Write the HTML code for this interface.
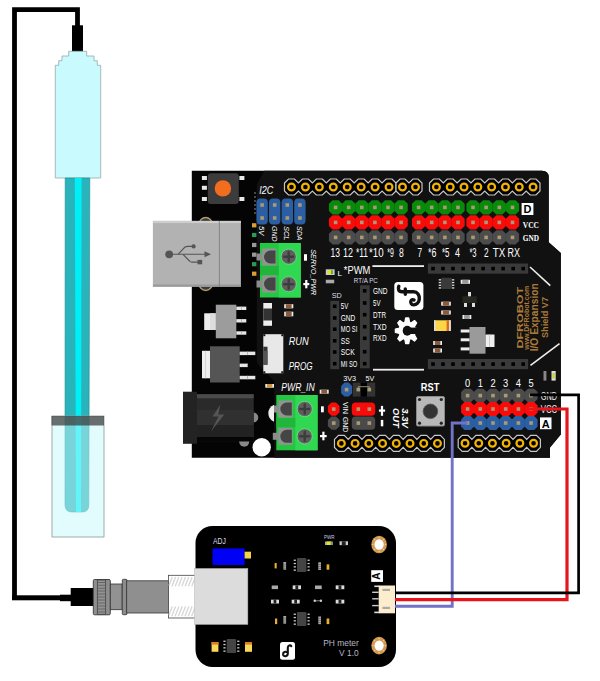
<!DOCTYPE html><html><head><meta charset="utf-8"><style>html,body{margin:0;padding:0;background:#fff;width:600px;height:681px;overflow:hidden}svg{display:block}</style></head><body>
<svg width="600" height="681" viewBox="0 0 600 681">
<polyline points="14.5,598 14.5,9.7 77.5,9.7 77.5,26" fill="none" stroke="#000" stroke-width="4.8" stroke-linejoin="miter"/>
<rect x="72" y="25.3" width="11" height="27" fill="#000"/>
<polygon points="68.7,51.3 86.7,51.3 86.7,56.0 94.0,56.0 94.0,60.7 97.3,60.7 97.3,65.3 100.7,65.3 100.7,178.0 55.3,178.0 55.3,65.3 58.7,65.3 58.7,60.7 62.0,60.7 62.0,56.0 68.7,56.0" fill="#c9fafd" stroke="#9aa" stroke-width="0.8"/>
<path d="M65.2,178 L89.8,178 L88.8,505 Q88.8,512 82,512 L72,512 Q65.2,512 65,505 Z" fill="#29b3bb" stroke="#1a8a90" stroke-width="0.6"/>
<path d="M74.8,178 L81.6,178 L81,512 L76,512 Z" fill="#00eef6"/>
<rect x="52" y="416" width="52" height="121" fill="#c6f8fa" fill-opacity="0.5" stroke="#8a9a9a" stroke-width="0.8"/>
<rect x="51.5" y="416" width="52.5" height="9.5" fill="#383838" fill-opacity="0.72"/>
<rect x="12" y="595.3" width="49" height="5" fill="#000"/>
<rect x="60" y="594.7" width="11" height="6.5" fill="#000"/>
<rect x="70.7" y="588" width="23" height="18" fill="#000"/>
<rect x="93.3" y="579.5" width="17" height="35.3" rx="1.2" fill="#8e8e8e" stroke="#3a3a3a" stroke-width="0.9"/>
<rect x="97.3" y="580" width="8.4" height="34.3" fill="#939393" stroke="#3a3a3a" stroke-width="0.7"/>
<line x1="97.5" y1="582.5" x2="105.5" y2="582.5" stroke="#555" stroke-width="0.7"/>
<line x1="97.5" y1="585.3" x2="105.5" y2="585.3" stroke="#555" stroke-width="0.7"/>
<line x1="97.5" y1="588.3" x2="105.5" y2="588.3" stroke="#555" stroke-width="0.7"/>
<line x1="97.5" y1="591.0" x2="105.5" y2="591.0" stroke="#555" stroke-width="0.7"/>
<line x1="97.5" y1="594.0" x2="105.5" y2="594.0" stroke="#555" stroke-width="0.7"/>
<line x1="97.5" y1="597.0" x2="105.5" y2="597.0" stroke="#555" stroke-width="0.7"/>
<line x1="97.5" y1="600.0" x2="105.5" y2="600.0" stroke="#555" stroke-width="0.7"/>
<line x1="97.5" y1="603.0" x2="105.5" y2="603.0" stroke="#555" stroke-width="0.7"/>
<line x1="97.5" y1="606.0" x2="105.5" y2="606.0" stroke="#555" stroke-width="0.7"/>
<line x1="97.5" y1="609.0" x2="105.5" y2="609.0" stroke="#555" stroke-width="0.7"/>
<line x1="97.5" y1="612.0" x2="105.5" y2="612.0" stroke="#555" stroke-width="0.7"/>
<rect x="110.3" y="584" width="11.8" height="25.7" fill="#929292" stroke="#333" stroke-width="0.8"/>
<rect x="122.3" y="579.3" width="4.7" height="35.4" rx="1" fill="#8c8c8c" stroke="#333" stroke-width="0.8"/>
<rect x="126.7" y="580.8" width="41.8" height="32.2" fill="#8f8f8f" stroke="#333" stroke-width="0.8"/>
<rect x="168.4" y="575.3" width="27" height="42.7" fill="#fff" stroke="#444" stroke-width="0.8"/>
<line x1="169.00" y1="585.42" x2="172.30" y2="577.00" stroke="#d6d6d6" stroke-width="1.3"/><line x1="171.95" y1="586.30" x2="175.60" y2="577.00" stroke="#d6d6d6" stroke-width="1.3"/><line x1="175.25" y1="586.30" x2="178.90" y2="577.00" stroke="#d6d6d6" stroke-width="1.3"/><line x1="178.55" y1="586.30" x2="182.20" y2="577.00" stroke="#d6d6d6" stroke-width="1.3"/><line x1="181.85" y1="586.30" x2="185.50" y2="577.00" stroke="#d6d6d6" stroke-width="1.3"/><line x1="185.15" y1="586.30" x2="188.80" y2="577.00" stroke="#d6d6d6" stroke-width="1.3"/><line x1="188.45" y1="586.30" x2="192.10" y2="577.00" stroke="#d6d6d6" stroke-width="1.3"/><line x1="191.75" y1="586.30" x2="195.00" y2="578.02" stroke="#d6d6d6" stroke-width="1.3"/>
<line x1="169.00" y1="614.92" x2="172.30" y2="606.50" stroke="#d6d6d6" stroke-width="1.3"/><line x1="171.76" y1="616.30" x2="175.60" y2="606.50" stroke="#d6d6d6" stroke-width="1.3"/><line x1="175.06" y1="616.30" x2="178.90" y2="606.50" stroke="#d6d6d6" stroke-width="1.3"/><line x1="178.36" y1="616.30" x2="182.20" y2="606.50" stroke="#d6d6d6" stroke-width="1.3"/><line x1="181.66" y1="616.30" x2="185.50" y2="606.50" stroke="#d6d6d6" stroke-width="1.3"/><line x1="184.96" y1="616.30" x2="188.80" y2="606.50" stroke="#d6d6d6" stroke-width="1.3"/><line x1="188.26" y1="616.30" x2="192.10" y2="606.50" stroke="#d6d6d6" stroke-width="1.3"/><line x1="191.56" y1="616.30" x2="195.00" y2="607.52" stroke="#d6d6d6" stroke-width="1.3"/><line x1="194.86" y1="616.30" x2="195.00" y2="615.94" stroke="#d6d6d6" stroke-width="1.3"/>
<rect x="195.5" y="526" width="200.5" height="141" rx="17" ry="17" fill="#000"/>
<rect x="194.6" y="568.6" width="53.2" height="55.7" fill="#dcdcdc" stroke="#bbb" stroke-width="0.6"/>
<text x="213.00" y="544.40" font-family="Liberation Sans" font-size="8.8" fill="#dde" text-anchor="start" font-weight="normal" font-style="normal"   textLength="12.80" lengthAdjust="spacingAndGlyphs">ADJ</text>
<rect x="212.5" y="548.4" width="32.1" height="16.6" fill="#0000f5"/>
<rect x="244.6" y="551.7" width="6.4" height="6.8" fill="#f5d24a"/>
<text x="324.00" y="538.50" font-family="Liberation Sans" font-size="4.5" fill="#cce" text-anchor="start" font-weight="normal" font-style="normal"  >PWR</text>
<rect x="325" y="541.5" width="7.8" height="3.5" fill="#aaa"/><rect x="326.8" y="541.5" width="4" height="3.5" fill="#e8e020"/><rect x="330.8" y="541.5" width="0.8" height="3.5" fill="#3a3"/>
<rect x="339.5" y="541.3" width="8.5" height="3.8" fill="#ccc"/>
<rect x="341.8" y="541.3" width="3.9" height="3.8" fill="#222"/>
<ellipse cx="379.1" cy="544.5" rx="7.8" ry="8.8" fill="#d49a50"/>
<ellipse cx="379.1" cy="544.5" rx="4.6" ry="5.2" fill="#fff"/>
<circle cx="385.30" cy="544.50" r="0.6" fill="#f4dcb0"/>
<circle cx="383.48" cy="549.45" r="0.6" fill="#f4dcb0"/>
<circle cx="379.10" cy="551.50" r="0.6" fill="#f4dcb0"/>
<circle cx="374.72" cy="549.45" r="0.6" fill="#f4dcb0"/>
<circle cx="372.90" cy="544.50" r="0.6" fill="#f4dcb0"/>
<circle cx="374.72" cy="539.55" r="0.6" fill="#f4dcb0"/>
<circle cx="379.10" cy="537.50" r="0.6" fill="#f4dcb0"/>
<circle cx="383.48" cy="539.55" r="0.6" fill="#f4dcb0"/>
<ellipse cx="379.1" cy="645.6" rx="7.8" ry="8.8" fill="#d49a50"/>
<ellipse cx="379.1" cy="645.6" rx="4.6" ry="5.2" fill="#fff"/>
<circle cx="385.30" cy="645.60" r="0.6" fill="#f4dcb0"/>
<circle cx="383.48" cy="650.55" r="0.6" fill="#f4dcb0"/>
<circle cx="379.10" cy="652.60" r="0.6" fill="#f4dcb0"/>
<circle cx="374.72" cy="650.55" r="0.6" fill="#f4dcb0"/>
<circle cx="372.90" cy="645.60" r="0.6" fill="#f4dcb0"/>
<circle cx="374.72" cy="640.65" r="0.6" fill="#f4dcb0"/>
<circle cx="379.10" cy="638.60" r="0.6" fill="#f4dcb0"/>
<circle cx="383.48" cy="640.65" r="0.6" fill="#f4dcb0"/>
<rect x="371.2" y="570.2" width="11.8" height="11.7" fill="#fff"/>
<text x="0.00" y="0.00" font-family="Liberation Sans" font-size="11" fill="#000" text-anchor="middle" font-weight="bold" font-style="normal" transform="translate(380.30 576.10) rotate(-90) scale(1.000 1)"  textLength="7.20" lengthAdjust="spacingAndGlyphs">A</text>
<rect x="378.7" y="585.5" width="16.3" height="27.8" fill="#fbedcd"/>
<rect x="374.3" y="585.5" width="5" height="1.6" fill="#ddd"/><rect x="374.3" y="611.6" width="5" height="1.6" fill="#ddd"/>
<rect x="372.2" y="591.6" width="6.5" height="1.4" fill="#ccc"/>
<rect x="372.2" y="598.1" width="6.5" height="1.4" fill="#ccc"/>
<rect x="372.2" y="604.9" width="6.5" height="1.4" fill="#ccc"/>
<rect x="382.4" y="588.8" width="7.6" height="2.2" fill="#aaa"/>
<rect x="382.4" y="606.8" width="7.6" height="2.2" fill="#aaa"/>
<text x="0.00" y="0.00" font-family="Liberation Sans" font-size="9.8" fill="#b8b8c4" text-anchor="end" font-weight="normal" font-style="normal" transform="translate(358.80 645.60) scale(0.860 1)" >PH meter</text>
<text x="0.00" y="0.00" font-family="Liberation Sans" font-size="8.8" fill="#b8b8c4" text-anchor="end" font-weight="normal" font-style="normal" transform="translate(358.60 656.20) scale(0.950 1)" >V 1.0</text>
<path d="M191.8,170.7 L542,170.7 Q548.7,170.7 548.7,177.4 L548.7,242.3 L560.8,253 L560.8,434.5 L550,447.5 L550,457.8 L191.8,457.8 Z" fill="#040404"/>
<path d="M264.3,170.7 L542,170.7 Q548.7,170.7 548.7,177.4 L548.7,242.3 L560.8,253 L560.8,434.5 L550,447.5 L550,457.8 L274.3,457.8 L274.3,381.5 L256.8,363 L256.8,184.3 Z" fill="#111111"/>
<path d="M199,224 A7,7 0 0 1 212.4,224" fill="none" stroke="#b8a070" stroke-width="1.6"/>
<path d="M199,284 A7,7 0 0 0 212.4,284" fill="none" stroke="#b8a070" stroke-width="1.6"/>
<ellipse cx="205.7" cy="224" rx="6.5" ry="6.5" fill="#3a3a3a" stroke="#b09a6a" stroke-width="1.4"/>
<ellipse cx="205.7" cy="284" rx="6.5" ry="6.5" fill="#3a3a3a" stroke="#b09a6a" stroke-width="1.4"/>
<rect x="152.9" y="220.9" width="88" height="65.8" fill="#b2b2b2"/>
<rect x="152.9" y="220.9" width="88" height="2.2" fill="#cdcdcd"/>
<rect x="152.9" y="284.5" width="88" height="2.2" fill="#9a9a9a"/>
<line x1="219.4" y1="221" x2="219.4" y2="286.7" stroke="#7a7a7a" stroke-width="0.8"/>
<g fill="#555" stroke="#555">
<circle cx="169.2" cy="254.3" r="3.9" stroke="none"/>
<line x1="170" y1="254.3" x2="207" y2="254.3" stroke-width="1.1"/>
<polygon points="211,254.3 204.5,251.3 204.5,257.3" stroke="none"/>
<path d="M178,254.3 L185,247 Q186,246.4 188,246.4 L193,246.4" fill="none" stroke-width="1.1"/>
<circle cx="193.6" cy="246.4" r="2.1" stroke="none"/>
<path d="M183,254.3 L189.5,261 Q190.5,262.1 192,262.1 L198,262.1" fill="none" stroke-width="1.1"/>
<rect x="197.5" y="259.9" width="4.7" height="4.4" stroke="none"/>
</g>
<rect x="201.9" y="176.0" width="5" height="4" fill="#e8e8e8"/>
<rect x="201.9" y="185.8" width="5" height="4" fill="#e8e8e8"/>
<rect x="201.9" y="197.0" width="5" height="4" fill="#e8e8e8"/>
<rect x="239.4" y="176.0" width="5" height="4" fill="#e8e8e8"/>
<rect x="239.4" y="197.0" width="5" height="4" fill="#e8e8e8"/>
<rect x="207.8" y="173.2" width="31" height="30.8" rx="3" fill="#3c3c3c"/>
<circle cx="222.9" cy="188.4" r="8.2" fill="#f26d1e"/>
<text x="259.30" y="193.60" font-family="Liberation Sans" font-size="10" fill="#fff" text-anchor="start" font-weight="normal" font-style="italic"   textLength="14.00" lengthAdjust="spacingAndGlyphs">I2C</text>
<line x1="255" y1="192" x2="255" y2="215" stroke="#888" stroke-width="1" stroke-dasharray="2,2"/>
<rect x="256.40" y="198.6" width="11.4" height="26" rx="4" fill="#2c5ea4"/>
<rect x="260.30" y="203.20" width="3.60" height="3.60" fill="#a89a72"/>
<rect x="260.30" y="216.20" width="3.60" height="3.60" fill="#a89a72"/>
<rect x="269.00" y="198.6" width="11.4" height="26" rx="4" fill="#2c5ea4"/>
<rect x="272.90" y="203.20" width="3.60" height="3.60" fill="#a89a72"/>
<rect x="272.90" y="216.20" width="3.60" height="3.60" fill="#a89a72"/>
<rect x="281.60" y="198.6" width="11.4" height="26" rx="4" fill="#2c5ea4"/>
<rect x="285.50" y="203.20" width="3.60" height="3.60" fill="#a89a72"/>
<rect x="285.50" y="216.20" width="3.60" height="3.60" fill="#a89a72"/>
<rect x="294.20" y="198.6" width="11.4" height="26" rx="4" fill="#2c5ea4"/>
<rect x="298.10" y="203.20" width="3.60" height="3.60" fill="#a89a72"/>
<rect x="298.10" y="216.20" width="3.60" height="3.60" fill="#a89a72"/>
<text x="0.00" y="0.00" font-family="Liberation Sans" font-size="7.2" fill="#fff" text-anchor="start" font-weight="normal" font-style="italic" transform="translate(259.10 226.00) rotate(90) scale(1.000 1)"  textLength="9.50" lengthAdjust="spacingAndGlyphs">5V</text>
<text x="0.00" y="0.00" font-family="Liberation Sans" font-size="7.2" fill="#fff" text-anchor="start" font-weight="normal" font-style="italic" transform="translate(271.70 226.00) rotate(90) scale(1.000 1)"  textLength="15.50" lengthAdjust="spacingAndGlyphs">GND</text>
<text x="0.00" y="0.00" font-family="Liberation Sans" font-size="7.2" fill="#fff" text-anchor="start" font-weight="normal" font-style="italic" transform="translate(284.30 226.00) rotate(90) scale(1.000 1)"  textLength="14.50" lengthAdjust="spacingAndGlyphs">SCL</text>
<text x="0.00" y="0.00" font-family="Liberation Sans" font-size="7.2" fill="#fff" text-anchor="start" font-weight="normal" font-style="italic" transform="translate(296.90 226.00) rotate(90) scale(1.000 1)"  textLength="14.50" lengthAdjust="spacingAndGlyphs">SDA</text>
<rect x="252" y="223.2" width="4.4" height="4.2" fill="#d9a030"/>
<rect x="252" y="232.9" width="4.4" height="4.2" fill="#2a9a5a"/>
<rect x="252" y="242.9" width="4.4" height="4.2" fill="#999"/>
<rect x="252" y="252.6" width="4.4" height="4.2" fill="#999"/>
<rect x="252" y="262.1" width="4.4" height="4.2" fill="#2a9a5a"/>
<rect x="252" y="271.6" width="4.4" height="4.2" fill="#d9a030"/>
<rect x="260.0" y="243.0" width="40.8" height="54.5" fill="#24c742"/><rect x="278.7" y="243.0" width="22.1" height="54.5" fill="#30d852"/><rect x="260.0" y="266.0" width="18.7" height="9.0" fill="#1fb63b"/><rect x="256.5" y="253.5" width="6" height="7" fill="#8c8c8c"/><rect x="262.3" y="248.5" width="14" height="17" fill="#939393"/><path d="M275.5,250.5 L275.5,263.5 L270.5,263.5 L270.5,263.5 A6.5,6.5 0 0 1 270.5,250.5 Z" fill="#454545"/><rect x="256.5" y="280.5" width="6" height="7" fill="#8c8c8c"/><rect x="262.3" y="275.5" width="14" height="17" fill="#939393"/><path d="M275.5,277.5 L275.5,290.5 L270.5,290.5 L270.5,290.5 A6.5,6.5 0 0 1 270.5,277.5 Z" fill="#454545"/><circle cx="288.7" cy="256.7" r="7.6" fill="#5e5e5e" stroke="#7fe39a" stroke-width="0.7"/><rect x="283.2" y="255.5" width="11" height="2.4" fill="#3c3c3c"/><rect x="287.5" y="251.2" width="2.4" height="11" fill="#3c3c3c"/><circle cx="288.7" cy="284.2" r="7.6" fill="#5e5e5e" stroke="#7fe39a" stroke-width="0.7"/><rect x="283.2" y="283.0" width="11" height="2.4" fill="#3c3c3c"/><rect x="287.5" y="278.7" width="2.4" height="11" fill="#3c3c3c"/>
<rect x="276.3" y="395.0" width="41.3" height="55.3" fill="#24c742"/><rect x="295.3" y="395.0" width="22.3" height="55.3" fill="#30d852"/><rect x="276.3" y="418.1" width="19.0" height="9.0" fill="#1fb63b"/><rect x="272.8" y="405.5" width="6" height="7" fill="#8c8c8c"/><rect x="278.6" y="400.5" width="14" height="17" fill="#939393"/><path d="M291.8,402.5 L291.8,415.5 L286.8,415.5 L286.8,415.5 A6.5,6.5 0 0 1 286.8,402.5 Z" fill="#454545"/><rect x="272.8" y="432.8" width="6" height="7" fill="#8c8c8c"/><rect x="278.6" y="427.8" width="14" height="17" fill="#939393"/><path d="M291.8,429.8 L291.8,442.8 L286.8,442.8 L286.8,442.8 A6.5,6.5 0 0 1 286.8,429.8 Z" fill="#454545"/><circle cx="304.7" cy="409.0" r="7.6" fill="#5e5e5e" stroke="#7fe39a" stroke-width="0.7"/><rect x="299.2" y="407.8" width="11" height="2.4" fill="#3c3c3c"/><rect x="303.5" y="403.5" width="2.4" height="11" fill="#3c3c3c"/><circle cx="304.7" cy="436.3" r="7.6" fill="#5e5e5e" stroke="#7fe39a" stroke-width="0.7"/><rect x="299.2" y="435.1" width="11" height="2.4" fill="#3c3c3c"/><rect x="303.5" y="430.8" width="2.4" height="11" fill="#3c3c3c"/>
<rect x="304" y="254.2" width="3" height="6.5" fill="#fff"/>
<rect x="303.3" y="283" width="6" height="2.2" fill="#fff"/><rect x="305.2" y="280" width="2.2" height="8.3" fill="#fff"/>
<text x="0.00" y="0.00" font-family="Liberation Sans" font-size="7.6" fill="#fff" text-anchor="start" font-weight="normal" font-style="italic" transform="translate(311.40 249.30) rotate(90) scale(1.000 1)"  textLength="46.00" lengthAdjust="spacingAndGlyphs">SERVO_PWR</text>
<rect x="321" y="406.3" width="2.8" height="6" fill="#fff"/>
<rect x="320" y="435" width="6.7" height="2.2" fill="#fff"/><rect x="322.3" y="431.7" width="2.2" height="8.6" fill="#fff"/>
<text x="281.30" y="390.80" font-family="Liberation Sans" font-size="11" fill="#fff" text-anchor="start" font-weight="normal" font-style="italic"   textLength="33.40" lengthAdjust="spacingAndGlyphs">PWR_IN</text>
<polygon points="284.50,183.00 288.50,179.00 294.44,179.00 298.44,183.00 298.44,183.00 302.44,179.00 308.38,179.00 312.38,183.00 312.38,183.00 316.38,179.00 322.32,179.00 326.32,183.00 326.32,183.00 330.32,179.00 336.26,179.00 340.26,183.00 340.26,183.00 344.26,179.00 350.20,179.00 354.20,183.00 354.20,183.00 358.20,179.00 364.14,179.00 368.14,183.00 368.14,183.00 372.14,179.00 378.08,179.00 382.08,183.00 382.08,183.00 386.08,179.00 392.02,179.00 396.02,183.00 396.02,191.00 392.02,195.00 386.08,195.00 382.08,191.00 382.08,191.00 378.08,195.00 372.14,195.00 368.14,191.00 368.14,191.00 364.14,195.00 358.20,195.00 354.20,191.00 354.20,191.00 350.20,195.00 344.26,195.00 340.26,191.00 340.26,191.00 336.26,195.00 330.32,195.00 326.32,191.00 326.32,191.00 322.32,195.00 316.38,195.00 312.38,191.00 312.38,191.00 308.38,195.00 302.44,195.00 298.44,191.00 298.44,191.00 294.44,195.00 288.50,195.00 284.50,191.00" fill="#000" stroke="#c8c8c8" stroke-width="1.2"/><circle cx="291.47" cy="187.00" r="3.4" fill="none" stroke="#f2b400" stroke-width="2.2"/><circle cx="305.41" cy="187.00" r="3.4" fill="none" stroke="#f2b400" stroke-width="2.2"/><circle cx="319.35" cy="187.00" r="3.4" fill="none" stroke="#f2b400" stroke-width="2.2"/><circle cx="333.29" cy="187.00" r="3.4" fill="none" stroke="#f2b400" stroke-width="2.2"/><circle cx="347.23" cy="187.00" r="3.4" fill="none" stroke="#f2b400" stroke-width="2.2"/><circle cx="361.17" cy="187.00" r="3.4" fill="none" stroke="#f2b400" stroke-width="2.2"/><circle cx="375.11" cy="187.00" r="3.4" fill="none" stroke="#f2b400" stroke-width="2.2"/><circle cx="389.05" cy="187.00" r="3.4" fill="none" stroke="#f2b400" stroke-width="2.2"/>
<polygon points="396.00,183.00 400.00,179.00 405.00,179.00 409.00,183.00 409.00,183.00 413.00,179.00 418.00,179.00 422.00,183.00 422.00,191.00 418.00,195.00 413.00,195.00 409.00,191.00 409.00,191.00 405.00,195.00 400.00,195.00 396.00,191.00" fill="#000" stroke="#c8c8c8" stroke-width="1.2"/><circle cx="402.50" cy="187.00" r="3.4" fill="none" stroke="#f2b400" stroke-width="2.2"/><circle cx="415.50" cy="187.00" r="3.4" fill="none" stroke="#f2b400" stroke-width="2.2"/>
<polygon points="429.50,183.00 433.50,179.00 439.31,179.00 443.31,183.00 443.31,183.00 447.31,179.00 453.12,179.00 457.12,183.00 457.12,183.00 461.12,179.00 466.93,179.00 470.93,183.00 470.93,183.00 474.93,179.00 480.74,179.00 484.74,183.00 484.74,183.00 488.74,179.00 494.55,179.00 498.55,183.00 498.55,183.00 502.55,179.00 508.36,179.00 512.36,183.00 512.36,183.00 516.36,179.00 522.17,179.00 526.17,183.00 526.17,183.00 530.17,179.00 535.98,179.00 539.98,183.00 539.98,191.00 535.98,195.00 530.17,195.00 526.17,191.00 526.17,191.00 522.17,195.00 516.36,195.00 512.36,191.00 512.36,191.00 508.36,195.00 502.55,195.00 498.55,191.00 498.55,191.00 494.55,195.00 488.74,195.00 484.74,191.00 484.74,191.00 480.74,195.00 474.93,195.00 470.93,191.00 470.93,191.00 466.93,195.00 461.12,195.00 457.12,191.00 457.12,191.00 453.12,195.00 447.31,195.00 443.31,191.00 443.31,191.00 439.31,195.00 433.50,195.00 429.50,191.00" fill="#000" stroke="#c8c8c8" stroke-width="1.2"/><circle cx="436.40" cy="187.00" r="3.4" fill="none" stroke="#f2b400" stroke-width="2.2"/><circle cx="450.21" cy="187.00" r="3.4" fill="none" stroke="#f2b400" stroke-width="2.2"/><circle cx="464.02" cy="187.00" r="3.4" fill="none" stroke="#f2b400" stroke-width="2.2"/><circle cx="477.83" cy="187.00" r="3.4" fill="none" stroke="#f2b400" stroke-width="2.2"/><circle cx="491.64" cy="187.00" r="3.4" fill="none" stroke="#f2b400" stroke-width="2.2"/><circle cx="505.45" cy="187.00" r="3.4" fill="none" stroke="#f2b400" stroke-width="2.2"/><circle cx="519.26" cy="187.00" r="3.4" fill="none" stroke="#f2b400" stroke-width="2.2"/><circle cx="533.07" cy="187.00" r="3.4" fill="none" stroke="#f2b400" stroke-width="2.2"/>
<polygon points="334.50,439.40 338.50,435.40 344.23,435.40 348.23,439.40 348.23,439.40 352.23,435.40 357.96,435.40 361.96,439.40 361.96,439.40 365.96,435.40 371.69,435.40 375.69,439.40 375.69,439.40 379.69,435.40 385.42,435.40 389.42,439.40 389.42,439.40 393.42,435.40 399.15,435.40 403.15,439.40 403.15,439.40 407.15,435.40 412.88,435.40 416.88,439.40 416.88,439.40 420.88,435.40 426.61,435.40 430.61,439.40 430.61,439.40 434.61,435.40 440.34,435.40 444.34,439.40 444.34,447.40 440.34,451.40 434.61,451.40 430.61,447.40 430.61,447.40 426.61,451.40 420.88,451.40 416.88,447.40 416.88,447.40 412.88,451.40 407.15,451.40 403.15,447.40 403.15,447.40 399.15,451.40 393.42,451.40 389.42,447.40 389.42,447.40 385.42,451.40 379.69,451.40 375.69,447.40 375.69,447.40 371.69,451.40 365.96,451.40 361.96,447.40 361.96,447.40 357.96,451.40 352.23,451.40 348.23,447.40 348.23,447.40 344.23,451.40 338.50,451.40 334.50,447.40" fill="#000" stroke="#c8c8c8" stroke-width="1.2"/><circle cx="341.37" cy="443.40" r="3.4" fill="none" stroke="#f2b400" stroke-width="2.2"/><circle cx="355.10" cy="443.40" r="3.4" fill="none" stroke="#f2b400" stroke-width="2.2"/><circle cx="368.82" cy="443.40" r="3.4" fill="none" stroke="#f2b400" stroke-width="2.2"/><circle cx="382.56" cy="443.40" r="3.4" fill="none" stroke="#f2b400" stroke-width="2.2"/><circle cx="396.29" cy="443.40" r="3.4" fill="none" stroke="#f2b400" stroke-width="2.2"/><circle cx="410.01" cy="443.40" r="3.4" fill="none" stroke="#f2b400" stroke-width="2.2"/><circle cx="423.75" cy="443.40" r="3.4" fill="none" stroke="#f2b400" stroke-width="2.2"/><circle cx="437.48" cy="443.40" r="3.4" fill="none" stroke="#f2b400" stroke-width="2.2"/>
<polygon points="458.20,439.30 462.20,435.30 467.90,435.30 471.90,439.30 471.90,439.30 475.90,435.30 481.60,435.30 485.60,439.30 485.60,439.30 489.60,435.30 495.30,435.30 499.30,439.30 499.30,439.30 503.30,435.30 509.00,435.30 513.00,439.30 513.00,439.30 517.00,435.30 522.70,435.30 526.70,439.30 526.70,439.30 530.70,435.30 536.40,435.30 540.40,439.30 540.40,447.30 536.40,451.30 530.70,451.30 526.70,447.30 526.70,447.30 522.70,451.30 517.00,451.30 513.00,447.30 513.00,447.30 509.00,451.30 503.30,451.30 499.30,447.30 499.30,447.30 495.30,451.30 489.60,451.30 485.60,447.30 485.60,447.30 481.60,451.30 475.90,451.30 471.90,447.30 471.90,447.30 467.90,451.30 462.20,451.30 458.20,447.30" fill="#000" stroke="#c8c8c8" stroke-width="1.2"/><circle cx="465.05" cy="443.30" r="3.4" fill="none" stroke="#f2b400" stroke-width="2.2"/><circle cx="478.75" cy="443.30" r="3.4" fill="none" stroke="#f2b400" stroke-width="2.2"/><circle cx="492.45" cy="443.30" r="3.4" fill="none" stroke="#f2b400" stroke-width="2.2"/><circle cx="506.15" cy="443.30" r="3.4" fill="none" stroke="#f2b400" stroke-width="2.2"/><circle cx="519.85" cy="443.30" r="3.4" fill="none" stroke="#f2b400" stroke-width="2.2"/><circle cx="533.55" cy="443.30" r="3.4" fill="none" stroke="#f2b400" stroke-width="2.2"/>
<polygon points="332.55,200.20 338.65,200.20 342.25,203.80 342.25,211.00 338.65,214.60 332.55,214.60 328.95,211.00 328.95,203.80" fill="#0a8a0a"/>
<rect x="333.80" y="205.60" width="3.60" height="3.60" fill="#a89a72"/>
<polygon points="332.55,215.20 338.65,215.20 342.25,218.80 342.25,226.00 338.65,229.60 332.55,229.60 328.95,226.00 328.95,218.80" fill="#fb0a0a"/>
<rect x="333.80" y="220.60" width="3.60" height="3.60" fill="#a89a72"/>
<polygon points="332.55,230.20 338.65,230.20 342.25,233.80 342.25,241.00 338.65,244.60 332.55,244.60 328.95,241.00 328.95,233.80" fill="#4c4c4c"/>
<rect x="333.80" y="235.60" width="3.60" height="3.60" fill="#a89a72"/>
<polygon points="345.65,200.20 351.75,200.20 355.35,203.80 355.35,211.00 351.75,214.60 345.65,214.60 342.05,211.00 342.05,203.80" fill="#0a8a0a"/>
<rect x="346.90" y="205.60" width="3.60" height="3.60" fill="#a89a72"/>
<polygon points="345.65,215.20 351.75,215.20 355.35,218.80 355.35,226.00 351.75,229.60 345.65,229.60 342.05,226.00 342.05,218.80" fill="#fb0a0a"/>
<rect x="346.90" y="220.60" width="3.60" height="3.60" fill="#a89a72"/>
<polygon points="345.65,230.20 351.75,230.20 355.35,233.80 355.35,241.00 351.75,244.60 345.65,244.60 342.05,241.00 342.05,233.80" fill="#4c4c4c"/>
<rect x="346.90" y="235.60" width="3.60" height="3.60" fill="#a89a72"/>
<polygon points="358.75,200.20 364.85,200.20 368.45,203.80 368.45,211.00 364.85,214.60 358.75,214.60 355.15,211.00 355.15,203.80" fill="#0a8a0a"/>
<rect x="360.00" y="205.60" width="3.60" height="3.60" fill="#a89a72"/>
<polygon points="358.75,215.20 364.85,215.20 368.45,218.80 368.45,226.00 364.85,229.60 358.75,229.60 355.15,226.00 355.15,218.80" fill="#fb0a0a"/>
<rect x="360.00" y="220.60" width="3.60" height="3.60" fill="#a89a72"/>
<polygon points="358.75,230.20 364.85,230.20 368.45,233.80 368.45,241.00 364.85,244.60 358.75,244.60 355.15,241.00 355.15,233.80" fill="#4c4c4c"/>
<rect x="360.00" y="235.60" width="3.60" height="3.60" fill="#a89a72"/>
<polygon points="371.85,200.20 377.95,200.20 381.55,203.80 381.55,211.00 377.95,214.60 371.85,214.60 368.25,211.00 368.25,203.80" fill="#0a8a0a"/>
<rect x="373.10" y="205.60" width="3.60" height="3.60" fill="#a89a72"/>
<polygon points="371.85,215.20 377.95,215.20 381.55,218.80 381.55,226.00 377.95,229.60 371.85,229.60 368.25,226.00 368.25,218.80" fill="#fb0a0a"/>
<rect x="373.10" y="220.60" width="3.60" height="3.60" fill="#a89a72"/>
<polygon points="371.85,230.20 377.95,230.20 381.55,233.80 381.55,241.00 377.95,244.60 371.85,244.60 368.25,241.00 368.25,233.80" fill="#4c4c4c"/>
<rect x="373.10" y="235.60" width="3.60" height="3.60" fill="#a89a72"/>
<polygon points="384.95,200.20 391.05,200.20 394.65,203.80 394.65,211.00 391.05,214.60 384.95,214.60 381.35,211.00 381.35,203.80" fill="#0a8a0a"/>
<rect x="386.20" y="205.60" width="3.60" height="3.60" fill="#a89a72"/>
<polygon points="384.95,215.20 391.05,215.20 394.65,218.80 394.65,226.00 391.05,229.60 384.95,229.60 381.35,226.00 381.35,218.80" fill="#fb0a0a"/>
<rect x="386.20" y="220.60" width="3.60" height="3.60" fill="#a89a72"/>
<polygon points="384.95,230.20 391.05,230.20 394.65,233.80 394.65,241.00 391.05,244.60 384.95,244.60 381.35,241.00 381.35,233.80" fill="#4c4c4c"/>
<rect x="386.20" y="235.60" width="3.60" height="3.60" fill="#a89a72"/>
<polygon points="398.05,200.20 404.15,200.20 407.75,203.80 407.75,211.00 404.15,214.60 398.05,214.60 394.45,211.00 394.45,203.80" fill="#0a8a0a"/>
<rect x="399.30" y="205.60" width="3.60" height="3.60" fill="#a89a72"/>
<polygon points="398.05,215.20 404.15,215.20 407.75,218.80 407.75,226.00 404.15,229.60 398.05,229.60 394.45,226.00 394.45,218.80" fill="#fb0a0a"/>
<rect x="399.30" y="220.60" width="3.60" height="3.60" fill="#a89a72"/>
<polygon points="398.05,230.20 404.15,230.20 407.75,233.80 407.75,241.00 404.15,244.60 398.05,244.60 394.45,241.00 394.45,233.80" fill="#4c4c4c"/>
<rect x="399.30" y="235.60" width="3.60" height="3.60" fill="#a89a72"/>
<polygon points="415.55,200.20 421.65,200.20 425.25,203.80 425.25,211.00 421.65,214.60 415.55,214.60 411.95,211.00 411.95,203.80" fill="#0a8a0a"/>
<rect x="416.80" y="205.60" width="3.60" height="3.60" fill="#a89a72"/>
<polygon points="415.55,215.20 421.65,215.20 425.25,218.80 425.25,226.00 421.65,229.60 415.55,229.60 411.95,226.00 411.95,218.80" fill="#fb0a0a"/>
<rect x="416.80" y="220.60" width="3.60" height="3.60" fill="#a89a72"/>
<polygon points="415.55,230.20 421.65,230.20 425.25,233.80 425.25,241.00 421.65,244.60 415.55,244.60 411.95,241.00 411.95,233.80" fill="#4c4c4c"/>
<rect x="416.80" y="235.60" width="3.60" height="3.60" fill="#a89a72"/>
<polygon points="428.65,200.20 434.75,200.20 438.35,203.80 438.35,211.00 434.75,214.60 428.65,214.60 425.05,211.00 425.05,203.80" fill="#0a8a0a"/>
<rect x="429.90" y="205.60" width="3.60" height="3.60" fill="#a89a72"/>
<polygon points="428.65,215.20 434.75,215.20 438.35,218.80 438.35,226.00 434.75,229.60 428.65,229.60 425.05,226.00 425.05,218.80" fill="#fb0a0a"/>
<rect x="429.90" y="220.60" width="3.60" height="3.60" fill="#a89a72"/>
<polygon points="428.65,230.20 434.75,230.20 438.35,233.80 438.35,241.00 434.75,244.60 428.65,244.60 425.05,241.00 425.05,233.80" fill="#4c4c4c"/>
<rect x="429.90" y="235.60" width="3.60" height="3.60" fill="#a89a72"/>
<polygon points="441.85,200.20 447.95,200.20 451.55,203.80 451.55,211.00 447.95,214.60 441.85,214.60 438.25,211.00 438.25,203.80" fill="#0a8a0a"/>
<rect x="443.10" y="205.60" width="3.60" height="3.60" fill="#a89a72"/>
<polygon points="441.85,215.20 447.95,215.20 451.55,218.80 451.55,226.00 447.95,229.60 441.85,229.60 438.25,226.00 438.25,218.80" fill="#fb0a0a"/>
<rect x="443.10" y="220.60" width="3.60" height="3.60" fill="#a89a72"/>
<polygon points="441.85,230.20 447.95,230.20 451.55,233.80 451.55,241.00 447.95,244.60 441.85,244.60 438.25,241.00 438.25,233.80" fill="#4c4c4c"/>
<rect x="443.10" y="235.60" width="3.60" height="3.60" fill="#a89a72"/>
<polygon points="454.95,200.20 461.05,200.20 464.65,203.80 464.65,211.00 461.05,214.60 454.95,214.60 451.35,211.00 451.35,203.80" fill="#0a8a0a"/>
<rect x="456.20" y="205.60" width="3.60" height="3.60" fill="#a89a72"/>
<polygon points="454.95,215.20 461.05,215.20 464.65,218.80 464.65,226.00 461.05,229.60 454.95,229.60 451.35,226.00 451.35,218.80" fill="#fb0a0a"/>
<rect x="456.20" y="220.60" width="3.60" height="3.60" fill="#a89a72"/>
<polygon points="454.95,230.20 461.05,230.20 464.65,233.80 464.65,241.00 461.05,244.60 454.95,244.60 451.35,241.00 451.35,233.80" fill="#4c4c4c"/>
<rect x="456.20" y="235.60" width="3.60" height="3.60" fill="#a89a72"/>
<polygon points="469.95,200.20 476.05,200.20 479.65,203.80 479.65,211.00 476.05,214.60 469.95,214.60 466.35,211.00 466.35,203.80" fill="#0a8a0a"/>
<rect x="471.20" y="205.60" width="3.60" height="3.60" fill="#a89a72"/>
<polygon points="469.95,215.20 476.05,215.20 479.65,218.80 479.65,226.00 476.05,229.60 469.95,229.60 466.35,226.00 466.35,218.80" fill="#fb0a0a"/>
<rect x="471.20" y="220.60" width="3.60" height="3.60" fill="#a89a72"/>
<polygon points="469.95,230.20 476.05,230.20 479.65,233.80 479.65,241.00 476.05,244.60 469.95,244.60 466.35,241.00 466.35,233.80" fill="#4c4c4c"/>
<rect x="471.20" y="235.60" width="3.60" height="3.60" fill="#a89a72"/>
<polygon points="483.05,200.20 489.15,200.20 492.75,203.80 492.75,211.00 489.15,214.60 483.05,214.60 479.45,211.00 479.45,203.80" fill="#0a8a0a"/>
<rect x="484.30" y="205.60" width="3.60" height="3.60" fill="#a89a72"/>
<polygon points="483.05,215.20 489.15,215.20 492.75,218.80 492.75,226.00 489.15,229.60 483.05,229.60 479.45,226.00 479.45,218.80" fill="#fb0a0a"/>
<rect x="484.30" y="220.60" width="3.60" height="3.60" fill="#a89a72"/>
<polygon points="483.05,230.20 489.15,230.20 492.75,233.80 492.75,241.00 489.15,244.60 483.05,244.60 479.45,241.00 479.45,233.80" fill="#4c4c4c"/>
<rect x="484.30" y="235.60" width="3.60" height="3.60" fill="#a89a72"/>
<polygon points="496.25,200.20 502.35,200.20 505.95,203.80 505.95,211.00 502.35,214.60 496.25,214.60 492.65,211.00 492.65,203.80" fill="#0a8a0a"/>
<rect x="497.50" y="205.60" width="3.60" height="3.60" fill="#a89a72"/>
<polygon points="496.25,215.20 502.35,215.20 505.95,218.80 505.95,226.00 502.35,229.60 496.25,229.60 492.65,226.00 492.65,218.80" fill="#fb0a0a"/>
<rect x="497.50" y="220.60" width="3.60" height="3.60" fill="#a89a72"/>
<polygon points="496.25,230.20 502.35,230.20 505.95,233.80 505.95,241.00 502.35,244.60 496.25,244.60 492.65,241.00 492.65,233.80" fill="#4c4c4c"/>
<rect x="497.50" y="235.60" width="3.60" height="3.60" fill="#a89a72"/>
<polygon points="509.45,200.20 515.55,200.20 519.15,203.80 519.15,211.00 515.55,214.60 509.45,214.60 505.85,211.00 505.85,203.80" fill="#0a8a0a"/>
<rect x="510.70" y="205.60" width="3.60" height="3.60" fill="#a89a72"/>
<polygon points="509.45,215.20 515.55,215.20 519.15,218.80 519.15,226.00 515.55,229.60 509.45,229.60 505.85,226.00 505.85,218.80" fill="#fb0a0a"/>
<rect x="510.70" y="220.60" width="3.60" height="3.60" fill="#a89a72"/>
<polygon points="509.45,230.20 515.55,230.20 519.15,233.80 519.15,241.00 515.55,244.60 509.45,244.60 505.85,241.00 505.85,233.80" fill="#4c4c4c"/>
<rect x="510.70" y="235.60" width="3.60" height="3.60" fill="#a89a72"/>
<text x="335.30" y="257.00" font-family="Liberation Sans" font-size="12.3" fill="#fff" text-anchor="middle" font-weight="normal" font-style="normal"   textLength="9.50" lengthAdjust="spacingAndGlyphs">13</text>
<text x="348.00" y="257.00" font-family="Liberation Sans" font-size="12.3" fill="#fff" text-anchor="middle" font-weight="normal" font-style="normal"   textLength="10.00" lengthAdjust="spacingAndGlyphs">12</text>
<text x="362.00" y="257.00" font-family="Liberation Sans" font-size="12.3" fill="#fff" text-anchor="middle" font-weight="normal" font-style="normal"   textLength="12.00" lengthAdjust="spacingAndGlyphs">*11</text>
<text x="376.30" y="257.00" font-family="Liberation Sans" font-size="12.3" fill="#fff" text-anchor="middle" font-weight="normal" font-style="normal"   textLength="14.60" lengthAdjust="spacingAndGlyphs">*10</text>
<text x="390.60" y="257.00" font-family="Liberation Sans" font-size="12.3" fill="#fff" text-anchor="middle" font-weight="normal" font-style="normal"   textLength="6.50" lengthAdjust="spacingAndGlyphs">*9</text>
<text x="401.30" y="257.00" font-family="Liberation Sans" font-size="12.3" fill="#fff" text-anchor="middle" font-weight="normal" font-style="normal"   textLength="4.80" lengthAdjust="spacingAndGlyphs">8</text>
<text x="419.80" y="257.00" font-family="Liberation Sans" font-size="12.3" fill="#fff" text-anchor="middle" font-weight="normal" font-style="normal"   textLength="4.60" lengthAdjust="spacingAndGlyphs">7</text>
<text x="432.20" y="257.00" font-family="Liberation Sans" font-size="12.3" fill="#fff" text-anchor="middle" font-weight="normal" font-style="normal"   textLength="8.40" lengthAdjust="spacingAndGlyphs">*6</text>
<text x="445.70" y="257.00" font-family="Liberation Sans" font-size="12.3" fill="#fff" text-anchor="middle" font-weight="normal" font-style="normal"   textLength="7.40" lengthAdjust="spacingAndGlyphs">*5</text>
<text x="457.50" y="257.00" font-family="Liberation Sans" font-size="12.3" fill="#fff" text-anchor="middle" font-weight="normal" font-style="normal"   textLength="5.00" lengthAdjust="spacingAndGlyphs">4</text>
<text x="473.00" y="257.00" font-family="Liberation Sans" font-size="12.3" fill="#fff" text-anchor="middle" font-weight="normal" font-style="normal"   textLength="7.20" lengthAdjust="spacingAndGlyphs">*3</text>
<text x="486.30" y="257.00" font-family="Liberation Sans" font-size="12.3" fill="#fff" text-anchor="middle" font-weight="normal" font-style="normal"   textLength="4.60" lengthAdjust="spacingAndGlyphs">2</text>
<text x="499.00" y="257.00" font-family="Liberation Sans" font-size="12.3" fill="#fff" text-anchor="middle" font-weight="normal" font-style="normal"   textLength="12.50" lengthAdjust="spacingAndGlyphs">TX</text>
<text x="513.80" y="257.00" font-family="Liberation Sans" font-size="12.3" fill="#fff" text-anchor="middle" font-weight="normal" font-style="normal"   textLength="12.50" lengthAdjust="spacingAndGlyphs">RX</text>
<rect x="521.6" y="203" width="11.8" height="12" fill="#fff"/>
<text x="527.50" y="213.20" font-family="Liberation Sans" font-size="11" fill="#000" text-anchor="middle" font-weight="bold" font-style="normal"  >D</text>
<text x="522.80" y="227.50" font-family="Liberation Serif" font-size="8.8" fill="#fff" text-anchor="start" font-weight="bold" font-style="normal"   textLength="16.20" lengthAdjust="spacingAndGlyphs">VCC</text>
<text x="522.80" y="241.20" font-family="Liberation Serif" font-size="8.8" fill="#fff" text-anchor="start" font-weight="bold" font-style="normal"   textLength="16.20" lengthAdjust="spacingAndGlyphs">GND</text>
<polygon points="464.50,388.70 470.70,388.70 474.10,392.10 474.10,399.10 470.70,402.50 464.50,402.50 461.10,399.10 461.10,392.10" fill="#4c4c4c"/>
<rect x="465.80" y="393.80" width="3.60" height="3.60" fill="#a89a72"/>
<polygon points="464.50,402.10 470.70,402.10 474.10,405.50 474.10,412.50 470.70,415.90 464.50,415.90 461.10,412.50 461.10,405.50" fill="#fb0a0a"/>
<rect x="465.80" y="407.20" width="3.60" height="3.60" fill="#a89a72"/>
<polygon points="464.50,416.10 470.70,416.10 474.10,419.50 474.10,426.50 470.70,429.90 464.50,429.90 461.10,426.50 461.10,419.50" fill="#2c5ea4"/>
<rect x="465.80" y="421.20" width="3.60" height="3.60" fill="#a89a72"/>
<polygon points="477.20,388.70 483.40,388.70 486.80,392.10 486.80,399.10 483.40,402.50 477.20,402.50 473.80,399.10 473.80,392.10" fill="#4c4c4c"/>
<rect x="478.50" y="393.80" width="3.60" height="3.60" fill="#a89a72"/>
<polygon points="477.20,402.10 483.40,402.10 486.80,405.50 486.80,412.50 483.40,415.90 477.20,415.90 473.80,412.50 473.80,405.50" fill="#fb0a0a"/>
<rect x="478.50" y="407.20" width="3.60" height="3.60" fill="#a89a72"/>
<polygon points="477.20,416.10 483.40,416.10 486.80,419.50 486.80,426.50 483.40,429.90 477.20,429.90 473.80,426.50 473.80,419.50" fill="#2c5ea4"/>
<rect x="478.50" y="421.20" width="3.60" height="3.60" fill="#a89a72"/>
<polygon points="489.90,388.70 496.10,388.70 499.50,392.10 499.50,399.10 496.10,402.50 489.90,402.50 486.50,399.10 486.50,392.10" fill="#4c4c4c"/>
<rect x="491.20" y="393.80" width="3.60" height="3.60" fill="#a89a72"/>
<polygon points="489.90,402.10 496.10,402.10 499.50,405.50 499.50,412.50 496.10,415.90 489.90,415.90 486.50,412.50 486.50,405.50" fill="#fb0a0a"/>
<rect x="491.20" y="407.20" width="3.60" height="3.60" fill="#a89a72"/>
<polygon points="489.90,416.10 496.10,416.10 499.50,419.50 499.50,426.50 496.10,429.90 489.90,429.90 486.50,426.50 486.50,419.50" fill="#2c5ea4"/>
<rect x="491.20" y="421.20" width="3.60" height="3.60" fill="#a89a72"/>
<polygon points="502.60,388.70 508.80,388.70 512.20,392.10 512.20,399.10 508.80,402.50 502.60,402.50 499.20,399.10 499.20,392.10" fill="#4c4c4c"/>
<rect x="503.90" y="393.80" width="3.60" height="3.60" fill="#a89a72"/>
<polygon points="502.60,402.10 508.80,402.10 512.20,405.50 512.20,412.50 508.80,415.90 502.60,415.90 499.20,412.50 499.20,405.50" fill="#fb0a0a"/>
<rect x="503.90" y="407.20" width="3.60" height="3.60" fill="#a89a72"/>
<polygon points="502.60,416.10 508.80,416.10 512.20,419.50 512.20,426.50 508.80,429.90 502.60,429.90 499.20,426.50 499.20,419.50" fill="#2c5ea4"/>
<rect x="503.90" y="421.20" width="3.60" height="3.60" fill="#a89a72"/>
<polygon points="515.30,388.70 521.50,388.70 524.90,392.10 524.90,399.10 521.50,402.50 515.30,402.50 511.90,399.10 511.90,392.10" fill="#4c4c4c"/>
<rect x="516.60" y="393.80" width="3.60" height="3.60" fill="#a89a72"/>
<polygon points="515.30,402.10 521.50,402.10 524.90,405.50 524.90,412.50 521.50,415.90 515.30,415.90 511.90,412.50 511.90,405.50" fill="#fb0a0a"/>
<rect x="516.60" y="407.20" width="3.60" height="3.60" fill="#a89a72"/>
<polygon points="515.30,416.10 521.50,416.10 524.90,419.50 524.90,426.50 521.50,429.90 515.30,429.90 511.90,426.50 511.90,419.50" fill="#2c5ea4"/>
<rect x="516.60" y="421.20" width="3.60" height="3.60" fill="#a89a72"/>
<polygon points="528.00,388.70 534.20,388.70 537.60,392.10 537.60,399.10 534.20,402.50 528.00,402.50 524.60,399.10 524.60,392.10" fill="#4c4c4c"/>
<rect x="529.30" y="393.80" width="3.60" height="3.60" fill="#a89a72"/>
<polygon points="528.00,402.10 534.20,402.10 537.60,405.50 537.60,412.50 534.20,415.90 528.00,415.90 524.60,412.50 524.60,405.50" fill="#fb0a0a"/>
<rect x="529.30" y="407.20" width="3.60" height="3.60" fill="#a89a72"/>
<polygon points="528.00,416.10 534.20,416.10 537.60,419.50 537.60,426.50 534.20,429.90 528.00,429.90 524.60,426.50 524.60,419.50" fill="#2c5ea4"/>
<rect x="529.30" y="421.20" width="3.60" height="3.60" fill="#a89a72"/>
<text x="0.00" y="0.00" font-family="Liberation Sans" font-size="11" fill="#fff" text-anchor="middle" font-weight="normal" font-style="normal" transform="translate(467.60 387.00) scale(0.850 1)" >0</text>
<text x="0.00" y="0.00" font-family="Liberation Sans" font-size="11" fill="#fff" text-anchor="middle" font-weight="normal" font-style="normal" transform="translate(480.30 387.00) scale(0.850 1)" >1</text>
<text x="0.00" y="0.00" font-family="Liberation Sans" font-size="11" fill="#fff" text-anchor="middle" font-weight="normal" font-style="normal" transform="translate(493.00 387.00) scale(0.850 1)" >2</text>
<text x="0.00" y="0.00" font-family="Liberation Sans" font-size="11" fill="#fff" text-anchor="middle" font-weight="normal" font-style="normal" transform="translate(505.70 387.00) scale(0.850 1)" >3</text>
<text x="0.00" y="0.00" font-family="Liberation Sans" font-size="11" fill="#fff" text-anchor="middle" font-weight="normal" font-style="normal" transform="translate(518.40 387.00) scale(0.850 1)" >4</text>
<text x="0.00" y="0.00" font-family="Liberation Sans" font-size="11" fill="#fff" text-anchor="middle" font-weight="normal" font-style="normal" transform="translate(531.10 387.00) scale(0.850 1)" >5</text>
<rect x="540" y="417.4" width="11.5" height="11.8" fill="#fff"/>
<text x="545.80" y="427.80" font-family="Liberation Sans" font-size="11" fill="#000" text-anchor="middle" font-weight="bold" font-style="normal"  >A</text>
<rect x="325.8" y="269.3" width="8.8" height="5.7" fill="#ccc"/><rect x="327.8" y="270.2" width="3.4" height="3.9" fill="#e8e020"/><rect x="331.2" y="270.2" width="1.6" height="3.9" fill="#3a3"/>
<rect x="325.8" y="279.7" width="8.4" height="3.6" fill="#aaa"/>
<text x="337.50" y="276.00" font-family="Liberation Sans" font-size="8" fill="#fff" text-anchor="start" font-weight="normal" font-style="normal"  >L</text>
<text x="343.80" y="273.50" font-family="Liberation Sans" font-size="11.2" fill="#fff" text-anchor="start" font-weight="normal" font-style="normal"   textLength="26.50" lengthAdjust="spacingAndGlyphs">*PWM</text>
<rect x="372.4" y="265.2" width="51.6" height="1.8" fill="#eee"/>
<rect x="330.3" y="300.8" width="8.9" height="68.4" fill="#3a3a3a"/>
<rect x="332.9" y="304.5" width="3.6" height="3.6" fill="#000"/>
<rect x="332.9" y="316.2" width="3.6" height="3.6" fill="#000"/>
<rect x="332.9" y="327.4" width="3.6" height="3.6" fill="#000"/>
<rect x="332.9" y="339.0" width="3.6" height="3.6" fill="#000"/>
<rect x="332.9" y="350.2" width="3.6" height="3.6" fill="#000"/>
<rect x="332.9" y="361.9" width="3.6" height="3.6" fill="#000"/>
<text x="331.70" y="298.30" font-family="Liberation Sans" font-size="7.2" fill="#dde" text-anchor="start" font-weight="normal" font-style="normal"  >SD</text>
<text x="340.80" y="309.20" font-family="Liberation Sans" font-size="8.2" fill="#fff" text-anchor="start" font-weight="normal" font-style="normal"   textLength="7.50" lengthAdjust="spacingAndGlyphs">5V</text>
<text x="340.80" y="320.90" font-family="Liberation Sans" font-size="8.2" fill="#fff" text-anchor="start" font-weight="normal" font-style="normal"   textLength="14.50" lengthAdjust="spacingAndGlyphs">GND</text>
<text x="340.80" y="332.10" font-family="Liberation Sans" font-size="8.2" fill="#fff" text-anchor="start" font-weight="normal" font-style="normal"   textLength="16.50" lengthAdjust="spacingAndGlyphs">MO SI</text>
<text x="340.80" y="343.70" font-family="Liberation Sans" font-size="8.2" fill="#fff" text-anchor="start" font-weight="normal" font-style="normal"   textLength="9.00" lengthAdjust="spacingAndGlyphs">SS</text>
<text x="340.80" y="354.90" font-family="Liberation Sans" font-size="8.2" fill="#fff" text-anchor="start" font-weight="normal" font-style="normal"   textLength="14.00" lengthAdjust="spacingAndGlyphs">SCK</text>
<text x="340.80" y="366.60" font-family="Liberation Sans" font-size="8.2" fill="#fff" text-anchor="start" font-weight="normal" font-style="normal"   textLength="16.50" lengthAdjust="spacingAndGlyphs">MI SO</text>
<rect x="360" y="285.3" width="9.7" height="83" fill="#3a3a3a"/>
<rect x="362.9" y="289.0" width="3.6" height="3.6" fill="#000"/>
<rect x="362.9" y="301.2" width="3.6" height="3.6" fill="#000"/>
<rect x="362.9" y="312.9" width="3.6" height="3.6" fill="#000"/>
<rect x="362.9" y="324.9" width="3.6" height="3.6" fill="#000"/>
<rect x="362.9" y="336.5" width="3.6" height="3.6" fill="#000"/>
<rect x="362.9" y="349.9" width="3.6" height="3.6" fill="#000"/>
<rect x="362.9" y="361.9" width="3.6" height="3.6" fill="#000"/>
<text x="353.80" y="282.90" font-family="Liberation Sans" font-size="6.6" fill="#dde" text-anchor="start" font-weight="normal" font-style="normal"   textLength="24.00" lengthAdjust="spacingAndGlyphs">RT/A PC</text>
<text x="373.00" y="293.70" font-family="Liberation Sans" font-size="8.2" fill="#fff" text-anchor="start" font-weight="normal" font-style="normal"   textLength="14.50" lengthAdjust="spacingAndGlyphs">GND</text>
<text x="373.00" y="305.90" font-family="Liberation Sans" font-size="8.2" fill="#fff" text-anchor="start" font-weight="normal" font-style="normal"   textLength="7.50" lengthAdjust="spacingAndGlyphs">5V</text>
<text x="373.00" y="317.60" font-family="Liberation Sans" font-size="8.2" fill="#fff" text-anchor="start" font-weight="normal" font-style="normal"   textLength="13.00" lengthAdjust="spacingAndGlyphs">DTR</text>
<text x="373.00" y="329.60" font-family="Liberation Sans" font-size="8.2" fill="#fff" text-anchor="start" font-weight="normal" font-style="normal"   textLength="13.50" lengthAdjust="spacingAndGlyphs">TXD</text>
<text x="373.00" y="341.20" font-family="Liberation Sans" font-size="8.2" fill="#fff" text-anchor="start" font-weight="normal" font-style="normal"   textLength="13.50" lengthAdjust="spacingAndGlyphs">RXD</text>
<rect x="373" y="368.8" width="51" height="1.8" fill="#eee"/>
<rect x="394.3" y="282" width="29.1" height="28" rx="3.5" fill="#fff"/>
<path d="M398.8,286.3 C397.8,289 398.5,291.8 402,291.8 L413.5,291.8 C417.6,291.8 419.6,295 419.3,299 C419,302.8 416.5,304.9 413.5,304.9 C411.3,304.9 410.2,302.5 411,300.8 C411.7,299.5 413,299.3 414,300 M405.3,289 L405.3,294.3" fill="none" stroke="#111" stroke-width="3.4" stroke-linecap="round"/>
<polygon points="405.65,317.93 408.75,317.93 409.61,322.34 411.01,322.97 414.50,320.51 416.69,322.89 414.43,326.67 415.01,328.18 419.07,329.12 419.07,332.48 415.01,333.42 414.43,334.93 416.69,338.71 414.50,341.09 411.01,338.63 409.61,339.26 408.75,343.67 405.65,343.67 404.79,339.26 403.39,338.63 399.90,341.09 397.71,338.71 399.97,334.93 399.39,333.42 395.33,332.48 395.33,329.12 399.39,328.18 399.97,326.67 397.71,322.89 399.90,320.51 403.39,322.97 404.79,322.34" fill="#fff" stroke="#fff" stroke-width="1.2" stroke-linejoin="round"/>
<ellipse cx="407.2" cy="330.8" rx="4.5" ry="5" fill="#111"/>
<rect x="407.2" y="327.6" width="14" height="6.4" fill="#111"/>
<rect x="427.9" y="263.5" width="100.2" height="10.2" fill="#3a3a3a"/>
<rect x="431.2" y="266.8" width="3.6" height="3.6" fill="#000"/>
<rect x="441.2" y="266.8" width="3.6" height="3.6" fill="#000"/>
<rect x="451.2" y="266.8" width="3.6" height="3.6" fill="#000"/>
<rect x="461.3" y="266.8" width="3.6" height="3.6" fill="#000"/>
<rect x="471.3" y="266.8" width="3.6" height="3.6" fill="#000"/>
<rect x="481.3" y="266.8" width="3.6" height="3.6" fill="#000"/>
<rect x="491.3" y="266.8" width="3.6" height="3.6" fill="#000"/>
<rect x="501.3" y="266.8" width="3.6" height="3.6" fill="#000"/>
<rect x="511.4" y="266.8" width="3.6" height="3.6" fill="#000"/>
<rect x="521.4" y="266.8" width="3.6" height="3.6" fill="#000"/>
<rect x="427.9" y="359.0" width="100.2" height="10.2" fill="#3a3a3a"/>
<rect x="431.2" y="362.3" width="3.6" height="3.6" fill="#000"/>
<rect x="441.2" y="362.3" width="3.6" height="3.6" fill="#000"/>
<rect x="451.2" y="362.3" width="3.6" height="3.6" fill="#000"/>
<rect x="461.3" y="362.3" width="3.6" height="3.6" fill="#000"/>
<rect x="471.3" y="362.3" width="3.6" height="3.6" fill="#000"/>
<rect x="481.3" y="362.3" width="3.6" height="3.6" fill="#000"/>
<rect x="491.3" y="362.3" width="3.6" height="3.6" fill="#000"/>
<rect x="501.3" y="362.3" width="3.6" height="3.6" fill="#000"/>
<rect x="511.4" y="362.3" width="3.6" height="3.6" fill="#000"/>
<rect x="521.4" y="362.3" width="3.6" height="3.6" fill="#000"/>
<rect x="441" y="277.7" width="11" height="11.3" rx="1" fill="#3a3a3a"/>
<rect x="438.7" y="279.2" width="2.3" height="1.3" fill="#ddd"/><rect x="452" y="279.2" width="2.3" height="1.3" fill="#ddd"/>
<rect x="438.7" y="281.9" width="2.3" height="1.3" fill="#ddd"/><rect x="452" y="281.9" width="2.3" height="1.3" fill="#ddd"/>
<rect x="438.7" y="284.6" width="2.3" height="1.3" fill="#ddd"/><rect x="452" y="284.6" width="2.3" height="1.3" fill="#ddd"/>
<rect x="438.7" y="287.3" width="2.3" height="1.3" fill="#ddd"/><rect x="452" y="287.3" width="2.3" height="1.3" fill="#ddd"/>
<rect x="460.7" y="279.8" width="9.3" height="4.0" fill="#eee"/><rect x="462.3" y="279.8" width="6.1" height="4.0" fill="#999"/>
<rect x="441.2" y="301.7" width="9.6" height="4.0" fill="#eee"/><rect x="442.8" y="301.7" width="6.4" height="4.0" fill="#8a5a3a"/>
<rect x="441.2" y="310.5" width="9.6" height="4.0" fill="#eee"/><rect x="442.8" y="310.5" width="6.4" height="4.0" fill="#8a5a3a"/>
<rect x="462.5" y="315.0" width="8.8" height="4.0" fill="#eee"/><rect x="464.1" y="315.0" width="5.6" height="4.0" fill="#999"/>
<rect x="433.2" y="341.0" width="8.8" height="4.0" fill="#eee"/><rect x="434.8" y="341.0" width="5.6" height="4.0" fill="#8a5a3a"/>
<rect x="433.2" y="348.5" width="8.8" height="4.0" fill="#eee"/><rect x="434.8" y="348.5" width="5.6" height="4.0" fill="#8a5a3a"/>
<rect x="284.2" y="304.2" width="9.1" height="4.1" fill="#eee"/><rect x="285.8" y="304.2" width="5.9" height="4.1" fill="#8a5a3a"/>
<rect x="284.2" y="311.7" width="9.1" height="4.6" fill="#eee"/><rect x="285.8" y="311.7" width="5.9" height="4.6" fill="#8a5a3a"/>
<rect x="319.7" y="389.7" width="9.0" height="4.0" fill="#eee"/><rect x="321.3" y="389.7" width="5.8" height="4.0" fill="#8a5a3a"/>
<rect x="265.3" y="384.0" width="8.7" height="3.7" fill="#eee"/><rect x="266.9" y="384.0" width="5.5" height="3.7" fill="#c8963c"/>
<rect x="462.5" y="296.3" width="14.2" height="6.7" fill="#26261e"/>
<rect x="468" y="292" width="3" height="4.3" fill="#ddd"/><rect x="464" y="303" width="3" height="4" fill="#ddd"/><rect x="472" y="303" width="3" height="4" fill="#ddd"/>
<rect x="434" y="320.3" width="16.8" height="10.7" fill="#fcd648"/><rect x="434" y="320.3" width="1.6" height="10.7" fill="#ddd"/><rect x="446.6" y="320.3" width="2.4" height="10.7" fill="#e06a10"/><rect x="449" y="320.3" width="1.8" height="10.7" fill="#ddd"/>
<rect x="469.5" y="327" width="16" height="26.7" fill="#9a9a9a"/>
<rect x="485.5" y="334.5" width="9" height="12.5" fill="#eee"/><rect x="489" y="334.5" width="1" height="12.5" fill="#ccc"/>
<rect x="460.7" y="329.5" width="8.8" height="3" fill="#eee"/>
<rect x="460.7" y="338.3" width="8.8" height="3" fill="#eee"/>
<rect x="460.7" y="347.4" width="8.8" height="3" fill="#eee"/>
<text x="0.00" y="0.00" font-family="Liberation Sans" font-size="9.8" fill="#ab7b3a" text-anchor="start" font-weight="bold" font-style="normal" transform="translate(522.60 348.60) rotate(-90) scale(1.000 1)"  textLength="61.80" lengthAdjust="spacingAndGlyphs">DFROBOT</text>
<text x="0.00" y="0.00" font-family="Liberation Sans" font-size="6.4" fill="#ab7b3a" text-anchor="start" font-weight="bold" font-style="normal" transform="translate(528.70 349.80) rotate(-90) scale(1.000 1)"  textLength="64.00" lengthAdjust="spacingAndGlyphs">www.DFRobot.com</text>
<text x="0.00" y="0.00" font-family="Liberation Sans" font-size="10" fill="#ab7b3a" text-anchor="start" font-weight="bold" font-style="normal" transform="translate(537.50 351.30) rotate(-90) scale(1.000 1)"  textLength="68.00" lengthAdjust="spacingAndGlyphs">I/O Expansion</text>
<text x="0.00" y="0.00" font-family="Liberation Sans" font-size="8.6" fill="#ab7b3a" text-anchor="start" font-weight="bold" font-style="normal" transform="translate(548.00 338.00) rotate(-90) scale(1.000 1)"  textLength="41.00" lengthAdjust="spacingAndGlyphs">Shield V7</text>
<line x1="530" y1="267" x2="550.3" y2="285.7" stroke="#eee" stroke-width="1.6"/>
<line x1="530.5" y1="365.3" x2="559.5" y2="343.7" stroke="#eee" stroke-width="1.6"/>
<rect x="543.5" y="371" width="2.9" height="9.6" fill="#888"/>
<rect x="551.5" y="371" width="4.2" height="9.6" fill="#ddd"/><rect x="552.3" y="373" width="2.6" height="5.5" fill="#c8d43a"/>
<rect x="204.2" y="313.3" width="11.6" height="16.7" fill="#eee"/><rect x="210" y="313.3" width="5.8" height="16.7" fill="#ddd"/>
<rect x="215.8" y="304.7" width="20.5" height="33.6" fill="#9c9c9c"/>
<rect x="236.3" y="306.6" width="10" height="3.4" fill="#e6e6e6"/><rect x="241" y="306.6" width="0.8" height="3.4" fill="#aaa"/>
<rect x="236.3" y="319.1" width="10" height="3.4" fill="#e6e6e6"/><rect x="241" y="319.1" width="0.8" height="3.4" fill="#aaa"/>
<rect x="236.3" y="331.3" width="10" height="3.4" fill="#e6e6e6"/><rect x="241" y="331.3" width="0.8" height="3.4" fill="#aaa"/>
<rect x="202" y="350.8" width="8" height="27.5" fill="#eee"/><rect x="205" y="350.8" width="0.8" height="27.5" fill="#ccc"/>
<rect x="210" y="346.3" width="29.7" height="36.2" fill="#555"/>
<rect x="239.7" y="351.6" width="15.6" height="3.5" fill="#e6e6e6"/><rect x="247" y="351.6" width="0.8" height="3.5" fill="#aaa"/>
<rect x="239.7" y="363.6" width="7.8" height="3.5" fill="#e6e6e6"/><rect x="247" y="363.6" width="0.8" height="3.5" fill="#aaa"/>
<rect x="239.7" y="375.8" width="15.6" height="3.5" fill="#e6e6e6"/><rect x="247" y="375.8" width="0.8" height="3.5" fill="#aaa"/>
<rect x="263.3" y="303" width="8.7" height="22.8" fill="#eee"/><rect x="263.3" y="308.5" width="8.7" height="12" fill="#333"/>
<rect x="263.3" y="334.2" width="20" height="39.1" fill="#e8e8e8"/>
<rect x="263.3" y="346.7" width="4.2" height="18" fill="#333"/><rect x="263.3" y="350.8" width="4.2" height="14" fill="#555"/>
<rect x="263.3" y="334.2" width="2" height="2" fill="#111"/>
<rect x="281.3" y="334.2" width="2" height="2" fill="#111"/>
<rect x="263.3" y="371.3" width="2" height="2" fill="#111"/>
<rect x="281.3" y="371.3" width="2" height="2" fill="#111"/>
<text x="288.70" y="344.70" font-family="Liberation Sans" font-size="11" fill="#fff" text-anchor="start" font-weight="normal" font-style="italic"   textLength="20.00" lengthAdjust="spacingAndGlyphs">RUN</text>
<text x="288.70" y="370.00" font-family="Liberation Sans" font-size="11" fill="#fff" text-anchor="start" font-weight="normal" font-style="italic"   textLength="24.00" lengthAdjust="spacingAndGlyphs">PROG</text>
<circle cx="253.3" cy="417.5" r="5" fill="#888"/>
<circle cx="244.2" cy="441.7" r="5" fill="#888"/>
<rect x="197" y="394.2" width="56.7" height="47.1" fill="#2a2a2a"/>
<rect x="197" y="394.2" width="56.7" height="4.1" fill="#4a4a4a"/>
<rect x="197" y="410" width="56.7" height="15" fill="#303030"/>
<rect x="197" y="425" width="56.7" height="12" fill="#222"/>
<rect x="197" y="437" width="56.7" height="4.3" fill="#050505"/>
<polygon points="220.3,404.7 212.5,416.5 218.5,416.5 210.8,431.7 224.2,414.5 218.3,414.5" fill="#555"/>
<rect x="183" y="391.7" width="14" height="52.1" fill="#232323"/>
<circle cx="261.7" cy="447.3" r="9.2" fill="#fff"/>
<path d="M274,405 A9,9 0 0 0 274,421.7 Z" fill="#eee"/>
<text x="0.00" y="0.00" font-family="Liberation Sans" font-size="8" fill="#fff" text-anchor="start" font-weight="normal" font-style="normal" transform="translate(343.30 380.80) scale(0.900 1)" >3V3</text>
<text x="0.00" y="0.00" font-family="Liberation Sans" font-size="8" fill="#fff" text-anchor="start" font-weight="normal" font-style="normal" transform="translate(365.50 380.80) scale(0.900 1)" >5V</text>
<polygon points="344.50,382.60 348.70,382.60 352.10,386.00 352.10,393.20 348.70,396.60 344.50,396.60 341.10,393.20 341.10,386.00" fill="#2c5ea4"/>
<rect x="344.80" y="387.80" width="3.60" height="3.60" fill="#a89a72"/>
<rect x="352.8" y="382.6" width="22.4" height="14" fill="#333"/>
<rect x="360.6" y="382.6" width="6.4" height="14" fill="#000"/>
<path d="M358.3,389.6 L358.3,386.7 L369.3,386.7 L369.3,389.6" fill="none" stroke="#a89a72" stroke-width="0.9"/>
<rect x="356.50" y="387.80" width="3.60" height="3.60" fill="#a89a72"/>
<rect x="367.50" y="387.80" width="3.60" height="3.60" fill="#a89a72"/>
<polygon points="331.50,402.40 336.00,402.40 339.60,406.00 339.60,412.20 336.00,415.80 331.50,415.80 327.90,412.20 327.90,406.00" fill="#fb0a0a"/>
<rect x="331.95" y="407.30" width="3.60" height="3.60" fill="#a89a72"/>
<polygon points="331.50,416.40 336.00,416.40 339.60,420.00 339.60,426.20 336.00,429.80 331.50,429.80 327.90,426.20 327.90,420.00" fill="#4c4c4c"/>
<rect x="331.95" y="421.30" width="3.60" height="3.60" fill="#a89a72"/>
<rect x="351.8" y="402.4" width="23.4" height="13.4" rx="3.8" fill="#fb0a0a"/>
<rect x="351.8" y="416.4" width="23.4" height="13.4" rx="3.8" fill="#4a4a4a"/>
<rect x="356.50" y="407.30" width="3.60" height="3.60" fill="#a89a72"/>
<rect x="356.50" y="421.30" width="3.60" height="3.60" fill="#a89a72"/>
<rect x="367.50" y="407.30" width="3.60" height="3.60" fill="#a89a72"/>
<rect x="367.50" y="421.30" width="3.60" height="3.60" fill="#a89a72"/>
<text x="0.00" y="0.00" font-family="Liberation Sans" font-size="6.6" fill="#fff" text-anchor="start" font-weight="normal" font-style="normal" transform="translate(342.60 402.00) rotate(90) scale(1.000 1)"  textLength="12.10" lengthAdjust="spacingAndGlyphs">VIN</text>
<text x="0.00" y="0.00" font-family="Liberation Sans" font-size="6.6" fill="#fff" text-anchor="start" font-weight="normal" font-style="normal" transform="translate(342.60 417.00) rotate(90) scale(1.000 1)"  textLength="15.20" lengthAdjust="spacingAndGlyphs">GND</text>
<rect x="378.9" y="409.5" width="6.2" height="2.2" fill="#fff"/><rect x="380.9" y="405.9" width="2.2" height="9.9" fill="#fff"/>
<rect x="380.8" y="419.9" width="2.5" height="6.4" fill="#fff"/>
<text x="0.00" y="0.00" font-family="Liberation Sans" font-size="8.4" fill="#fff" text-anchor="start" font-weight="bold" font-style="italic" transform="translate(392.80 408.00) rotate(90) scale(1.000 1)"  textLength="19.70" lengthAdjust="spacingAndGlyphs">OUT</text>
<text x="0.00" y="0.00" font-family="Liberation Sans" font-size="8.4" fill="#fff" text-anchor="start" font-weight="bold" font-style="italic" transform="translate(401.80 408.30) rotate(90) scale(1.000 1)"  textLength="19.70" lengthAdjust="spacingAndGlyphs">3.3V</text>
<text x="420.80" y="391.30" font-family="Liberation Sans" font-size="10.5" fill="#fff" text-anchor="start" font-weight="bold" font-style="normal"   textLength="18.50" lengthAdjust="spacingAndGlyphs">RST</text>
<rect x="416.5" y="396.5" width="28" height="29.5" rx="1.5" fill="#b8b8b8" stroke="#8a8a8a" stroke-width="1"/>
<circle cx="419.5" cy="399.5" r="1.6" fill="#222"/>
<circle cx="441.3" cy="399.5" r="1.6" fill="#222"/>
<circle cx="419.5" cy="423.2" r="1.6" fill="#222"/>
<circle cx="441.3" cy="423.2" r="1.6" fill="#222"/>
<circle cx="430.4" cy="411.3" r="7.3" fill="#333" stroke="#555" stroke-width="0.8"/>
<text x="540.80" y="399.50" font-family="Liberation Sans" font-size="11" fill="#eee" text-anchor="start" font-weight="normal" font-style="normal"   textLength="16.20" lengthAdjust="spacingAndGlyphs">GND</text>
<text x="540.80" y="413.10" font-family="Liberation Sans" font-size="11" fill="#eee" text-anchor="start" font-weight="normal" font-style="normal"   textLength="16.20" lengthAdjust="spacingAndGlyphs">VCC</text>
<polyline points="467.6,423 452.2,423 452.2,606.3 395,606.3" fill="none" stroke="#7272c6" stroke-width="2.9"/>
<polyline points="525.5,409 567,409 567,599.6 395,599.6" fill="none" stroke="#e8141c" stroke-width="3.2"/>
<polyline points="530,394.8 578.6,394.8 578.6,592.8 395,592.8" fill="none" stroke="#000" stroke-width="2.7"/>
<rect x="297.0" y="558.0" width="9.4" height="14.0" rx="1" fill="#444"/><rect x="293.7" y="559.6" width="2.2" height="1.3" fill="#ccc"/><rect x="307.5" y="559.6" width="2.2" height="1.3" fill="#ccc"/><rect x="293.7" y="562.9" width="2.2" height="1.3" fill="#ccc"/><rect x="307.5" y="562.9" width="2.2" height="1.3" fill="#ccc"/><rect x="293.7" y="566.2" width="2.2" height="1.3" fill="#ccc"/><rect x="307.5" y="566.2" width="2.2" height="1.3" fill="#ccc"/><rect x="293.7" y="569.5" width="2.2" height="1.3" fill="#ccc"/><rect x="307.5" y="569.5" width="2.2" height="1.3" fill="#ccc"/>
<rect x="297.0" y="612.0" width="9.4" height="14.0" rx="1" fill="#444"/><rect x="293.7" y="613.6" width="2.2" height="1.3" fill="#ccc"/><rect x="307.5" y="613.6" width="2.2" height="1.3" fill="#ccc"/><rect x="293.7" y="616.9" width="2.2" height="1.3" fill="#ccc"/><rect x="307.5" y="616.9" width="2.2" height="1.3" fill="#ccc"/><rect x="293.7" y="620.2" width="2.2" height="1.3" fill="#ccc"/><rect x="307.5" y="620.2" width="2.2" height="1.3" fill="#ccc"/><rect x="293.7" y="623.5" width="2.2" height="1.3" fill="#ccc"/><rect x="307.5" y="623.5" width="2.2" height="1.3" fill="#ccc"/>
<rect x="226.7" y="639.0" width="9.4" height="14.0" rx="1" fill="#444"/><rect x="223.4" y="640.6" width="2.2" height="1.3" fill="#ccc"/><rect x="237.2" y="640.6" width="2.2" height="1.3" fill="#ccc"/><rect x="223.4" y="643.9" width="2.2" height="1.3" fill="#ccc"/><rect x="237.2" y="643.9" width="2.2" height="1.3" fill="#ccc"/><rect x="223.4" y="647.2" width="2.2" height="1.3" fill="#ccc"/><rect x="237.2" y="647.2" width="2.2" height="1.3" fill="#ccc"/><rect x="223.4" y="650.5" width="2.2" height="1.3" fill="#ccc"/><rect x="237.2" y="650.5" width="2.2" height="1.3" fill="#ccc"/>
<rect x="271.7" y="585.5" width="6.3" height="3.6" fill="#aaa"/>
<rect x="292.7" y="585.4" width="8.3" height="3.8" fill="#ddd"/><rect x="295.4" y="585.4" width="2.8" height="3.8" fill="#222"/>
<rect x="315.0" y="585.5" width="6.7" height="3.6" fill="#aaa"/>
<rect x="335.7" y="585.4" width="8.6" height="3.8" fill="#ddd"/><rect x="338.5" y="585.4" width="2.9" height="3.8" fill="#222"/>
<rect x="271.0" y="599.7" width="8.0" height="3.8" fill="#ddd"/><rect x="273.6" y="599.7" width="2.7" height="3.8" fill="#222"/>
<rect x="291.7" y="599.7" width="8.0" height="3.8" fill="#ddd"/><rect x="294.3" y="599.7" width="2.7" height="3.8" fill="#222"/>
<rect x="313.7" y="600.3" width="8.3" height="1" fill="#888"/><circle cx="314.8" cy="600.8" r="1.2" fill="#ccc"/><circle cx="320.9" cy="600.8" r="1.2" fill="#ccc"/>
<rect x="335.7" y="599.7" width="8.6" height="3.8" fill="#ddd"/><rect x="338.5" y="599.7" width="2.9" height="3.8" fill="#222"/>
<rect x="283.4" y="562.0" width="2.7" height="7.7" fill="#aaa"/>
<rect x="283.4" y="563.8" width="2.7" height="0.6" fill="#555"/>
<rect x="283.4" y="565.8" width="2.7" height="0.6" fill="#555"/>
<rect x="283.4" y="567.8" width="2.7" height="0.6" fill="#555"/>
<rect x="318.3" y="562.3" width="2.7" height="7.7" fill="#aaa"/>
<rect x="318.3" y="564.1" width="2.7" height="0.6" fill="#555"/>
<rect x="318.3" y="566.1" width="2.7" height="0.6" fill="#555"/>
<rect x="318.3" y="568.1" width="2.7" height="0.6" fill="#555"/>
<rect x="283.4" y="616.0" width="2.7" height="7.7" fill="#aaa"/>
<rect x="283.4" y="617.8" width="2.7" height="0.6" fill="#555"/>
<rect x="283.4" y="619.8" width="2.7" height="0.6" fill="#555"/>
<rect x="283.4" y="621.8" width="2.7" height="0.6" fill="#555"/>
<rect x="318.3" y="616.5" width="2.7" height="7.7" fill="#aaa"/>
<rect x="318.3" y="618.3" width="2.7" height="0.6" fill="#555"/>
<rect x="318.3" y="620.3" width="2.7" height="0.6" fill="#555"/>
<rect x="318.3" y="622.3" width="2.7" height="0.6" fill="#555"/>
<rect x="274.6" y="563" width="2.1" height="5.4" fill="#e8b030"/>
<rect x="326.6" y="564.4" width="2.7" height="5.3" fill="#e8b030"/>
<rect x="275" y="618.5" width="2.2" height="5.6" fill="#e8b030"/>
<rect x="326.6" y="618.5" width="2.7" height="5.6" fill="#e8b030"/>
<rect x="211.6" y="642" width="6.8" height="9.8" fill="#f8d85a"/><rect x="211.6" y="642" width="6.8" height="2.6" fill="#e07a20"/>
<rect x="245" y="642" width="7" height="9.8" fill="#f8d85a"/><rect x="245" y="642" width="7" height="2.6" fill="#e07a20"/>
<rect x="280" y="642" width="15" height="17.7" rx="2.5" fill="#fff"/>
<path d="M291.3,646.2 C290.3,644.8 287.8,645 287.8,647.8 L287.8,653.5 C287.8,656.5 283.5,657.3 283.1,654.5 C282.8,652 285.5,651.2 287.5,652.3" fill="none" stroke="#111" stroke-width="2.1" stroke-linecap="round"/>
</svg></body></html>
